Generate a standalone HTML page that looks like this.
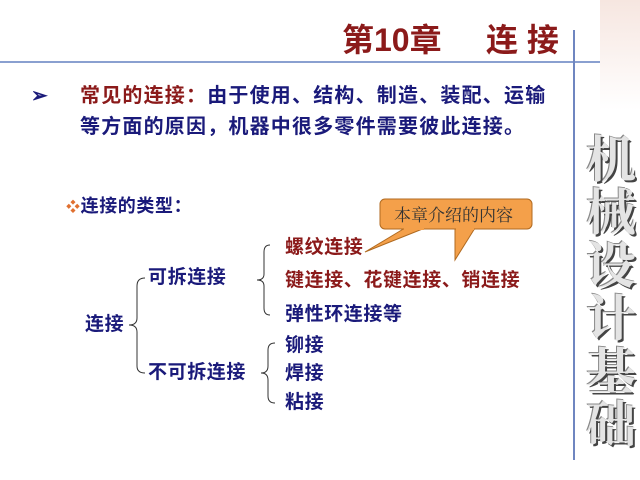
<!DOCTYPE html>
<html><head><meta charset="utf-8"><style>
body{margin:0;width:640px;height:480px;background:#fff;position:relative;overflow:hidden;font-family:"Liberation Sans","Noto Sans CJK SC",sans-serif}
.t{position:absolute;white-space:nowrap;font-weight:bold;font-size:19px;line-height:1;color:#1a1a7a;letter-spacing:0.6px}
.r{color:#8b1a1a}
.big{position:absolute;left:583px;width:56px;font-family:"Noto Serif CJK SC","Noto Sans CJK SC",serif;font-size:50px;line-height:53px;color:#e4e4e4;text-shadow:2px 2px 0 #444,-1px -1px 0 #888;text-align:center;font-weight:bold}
.h{position:absolute;font-family:"Liberation Sans","Noto Sans CJK SC",sans-serif;font-weight:bold;color:#8b1a1a;font-size:32px;line-height:1;white-space:nowrap}
</style></head><body>
<div style="position:absolute;left:600px;top:0;width:40px;height:110px;background:linear-gradient(#f6e6e0,#fff)"></div>
<div style="position:absolute;left:0;top:61px;width:600px;height:2px;background:#8aa0d0"></div>
<div style="position:absolute;left:573px;top:30px;width:2px;height:430px;background:#6f86c0"></div>
<div class="h" style="left:342px;top:24px">第10章</div>
<div class="h" style="left:486px;top:24px">连 接</div>
<div class="big" style="top:130px">机<br>械<br>设<br>计<br>基<br>础</div>
<div class="t" style="left:31px;top:86px;font-size:20px">➢</div>
<div class="t" style="left:80px;top:86px;font-size:20px;letter-spacing:1.2px"><span class="r">常见的连接：</span>由于使用、结构、制造、装配、运输</div>
<div class="t" style="left:80px;top:117px;font-size:20px;letter-spacing:1.2px">等方面的原因，机器中很多零件需要彼此连接。</div>
<div class="t" style="left:66px;top:197px;font-size:18px"><span style="color:#e07030;font-size:14px">❖</span>连接的类型：</div>
<svg style="position:absolute;left:0;top:0" width="640" height="480">
<path d="M405 228 L365 252 L425 228 Z M455 228 L455 260 L475 228 Z" fill="#f4a04a" stroke="#b06a20"/>
<rect x="380" y="199" width="152" height="30" rx="5" fill="#f4a04a" stroke="#b06a20"/>
<rect x="404" y="226" width="20" height="4" fill="#f4a04a"/><rect x="456" y="226" width="18" height="4" fill="#f4a04a"/>
<g fill="none" stroke="#333" stroke-width="1">
<path d="M145 278 Q137 278 137 286 L137 318 Q137 325 129 325 Q137 325 137 332 L137 366 Q137 373 145 373"/>
<path d="M270 245 Q264 245 264 252 L264 274 Q264 280 257 280 Q264 280 264 286 L264 308 Q264 315 270 315"/>
<path d="M275 343 Q268 343 268 350 L268 366 Q268 373 261 373 Q268 373 268 380 L268 396 Q268 403 275 403"/>
</g></svg>
<div class="t" style="left:394px;top:205px;font-weight:normal;font-size:17px;color:#333;font-family:'Noto Serif CJK SC',serif;letter-spacing:0">本章介绍的内容</div>
<div class="t r" style="left:285px;top:238px">螺纹连接</div>
<div class="t r" style="left:285px;top:271px">键连接、花键连接、销连接</div>
<div class="t" style="left:285px;top:305px">弹性环连接等</div>
<div class="t" style="left:148px;top:268px">可拆连接</div>
<div class="t" style="left:85px;top:315px">连接</div>
<div class="t" style="left:148px;top:363px">不可拆连接</div>
<div class="t" style="left:285px;top:336px">铆接</div>
<div class="t" style="left:285px;top:364px">焊接</div>
<div class="t" style="left:285px;top:393px">粘接</div>
</body></html>
